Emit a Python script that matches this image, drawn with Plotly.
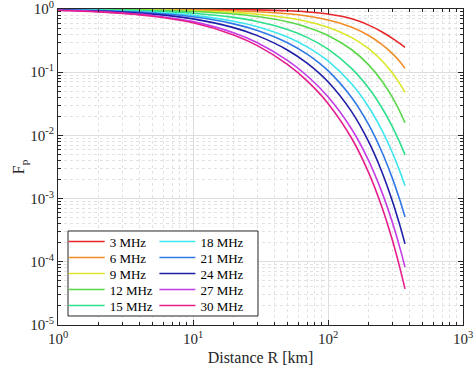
import plotly.graph_objects as go

# ---------------- data ----------------
distance_km = [1, 2, 5, 10, 20, 30, 50, 70, 100, 150, 200, 250, 300, 340, 372]

freq_labels = ["3 MHz", "6 MHz", "9 MHz", "12 MHz", "15 MHz",
               "18 MHz", "21 MHz", "24 MHz", "27 MHz", "30 MHz"]

fp_3mhz = [1.0, 1.0, 0.998, 0.993, 0.982, 0.968, 0.938, 0.900, 0.832, 0.700, 0.556, 0.437, 0.343, 0.285, 0.248]
fp_6mhz = [0.997, 0.994, 0.984, 0.968, 0.936, 0.904, 0.839, 0.773, 0.668, 0.513, 0.380, 0.275, 0.197, 0.148, 0.1148]
fp_9mhz = [0.994, 0.988, 0.970, 0.940, 0.883, 0.828, 0.726, 0.634, 0.513, 0.3528, 0.2359, 0.1534, 0.0971, 0.0660, 0.0479]
fp_12mhz = [0.991, 0.982, 0.956, 0.913, 0.833, 0.759, 0.627, 0.516, 0.382, 0.2265, 0.1306, 0.0733, 0.0399, 0.02404, 0.01585]
fp_15mhz = [0.984, 0.969, 0.925, 0.857, 0.736, 0.635, 0.474, 0.356, 0.232, 0.114, 0.0562, 0.02767, 0.01365, 0.00774, 0.00492]
fp_18mhz = [0.976, 0.953, 0.888, 0.793, 0.640, 0.524, 0.360, 0.252, 0.151, 0.0650, 0.0282, 0.01225, 0.00531, 0.00272, 0.00160]
fp_21mhz = [0.971, 0.942, 0.863, 0.752, 0.581, 0.457, 0.293, 0.193, 0.1057, 0.0394, 0.01479, 0.00556, 0.00209, 0.000955, 0.000511]
fp_24mhz = [0.962, 0.927, 0.830, 0.698, 0.507, 0.379, 0.225, 0.139, 0.0705, 0.02355, 0.00794, 0.00269, 0.000912, 0.000384, 0.000192]
fp_27mhz = [0.953, 0.908, 0.789, 0.631, 0.421, 0.292, 0.154, 0.0879, 0.0409, 0.01253, 0.00400, 0.001288, 0.000417, 0.000169, 0.0000820]
fp_30mhz = [0.948, 0.899, 0.769, 0.604, 0.389, 0.263, 0.133, 0.0728, 0.0321, 0.00893, 0.00258, 0.000750, 0.000219, 0.0000817, 0.0000372]

series = [fp_3mhz, fp_6mhz, fp_9mhz, fp_12mhz, fp_15mhz,
          fp_18mhz, fp_21mhz, fp_24mhz, fp_27mhz, fp_30mhz]

line_colors = ["#e8262a", "#f28c28", "#dce628", "#5ad84a", "#2ee08c",
               "#3ee6f0", "#2f78e6", "#1e1ea8", "#c43ce6", "#e61e8c"]

x_tick_vals = [1, 10, 100, 1000]
x_tick_text = ["10<sup>0</sup>", "10<sup>1</sup>", "10<sup>2</sup>", "10<sup>3</sup>"]
y_tick_vals = [1e-5, 1e-4, 1e-3, 1e-2, 1e-1, 1]
y_tick_text = ["10<sup>-5</sup>", "10<sup>-4</sup>", "10<sup>-3</sup>",
               "10<sup>-2</sup>", "10<sup>-1</sup>", "10<sup>0</sup>"]

x_title = "Distance R [km]"
y_title = "F<sub>p</sub>"

# ---------------- figure ----------------
FONT = "Liberation Serif, Times New Roman, serif"
AX = "#262626"

# legend layout: two columns of five entries (one legend per entry)
leg_col_x = [0.014, 0.238]
leg_row_y = [0.2642, 0.2136, 0.1630, 0.1123, 0.0617]

fig = go.Figure()
legend_layouts = {}
for i, (lab, ys, col) in enumerate(zip(freq_labels, series, line_colors)):
    lname = "legend" if i == 0 else f"legend{i + 1}"
    fig.add_trace(go.Scatter(
        x=distance_km, y=ys, name=lab, mode="lines",
        line=dict(color=col, width=1.6, shape="spline", smoothing=1.0),
        legend=lname,
    ))
    legend_layouts[lname] = dict(
        font=dict(family=FONT, size=13, color="#000000"),
        bgcolor="rgba(0,0,0,0)", borderwidth=0,
        xanchor="left", yanchor="middle",
        x=leg_col_x[i // 5], y=leg_row_y[i % 5],
        itemwidth=36, itemclick=False, itemdoubleclick=False,
    )

minor_x = [m * 10 ** k for k in range(0, 3) for m in range(2, 10)]
minor_y = [m * 10 ** k for k in range(-5, 0) for m in range(2, 10)]

axis_common = dict(
    type="log", showline=True, linecolor=AX, linewidth=1, mirror="ticks",
    ticks="inside", ticklen=5, tickcolor=AX, tickwidth=1, automargin=False,
    ticklabeloverflow="allow",
    showgrid=True, gridcolor="#dedede", gridwidth=1, zeroline=False,
    tickfont=dict(family=FONT, size=15, color=AX),
)

fig.update_xaxes(
    **axis_common, range=[0, 3], tickmode="array",
    tickvals=x_tick_vals, ticktext=x_tick_text,
    minor=dict(tickmode="array", tickvals=minor_x, ticks="inside", ticklen=3,
               tickcolor=AX, showgrid=True, gridcolor="#e2e2e2", griddash="dot"),
    title=dict(text=x_title, font=dict(family=FONT, size=16, color=AX), standoff=5),
)
fig.update_yaxes(
    **axis_common, range=[-5, 0], tickmode="array",
    tickvals=y_tick_vals, ticktext=y_tick_text,
    minor=dict(tickmode="array", tickvals=minor_y, ticks="inside", ticklen=3,
               tickcolor=AX, showgrid=True, gridcolor="#e2e2e2", griddash="dot"),
    title=dict(text=y_title, font=dict(family=FONT, size=16, color=AX), standoff=1),
)

fig.update_layout(
    width=474, height=372,
    margin=dict(l=58, r=11, t=9, b=47, autoexpand=False),
    paper_bgcolor="white", plot_bgcolor="white",
    font=dict(family=FONT, color=AX),
    showlegend=True,
    shapes=[dict(type="rect", xref="paper", yref="paper",
                 x0=0.0247, x1=0.4938, y0=0.0285, y1=0.2975,
                 line=dict(color=AX, width=1), fillcolor="white", layer="above")],
    **legend_layouts,
)

fig.write_html("out.html", config={"displayModeBar": False},
               post_script="document.body.style.margin='0px';")
